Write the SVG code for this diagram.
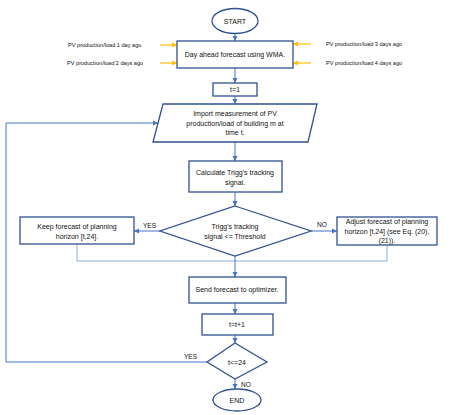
<svg xmlns="http://www.w3.org/2000/svg" width="474" height="415" viewBox="0 0 474 415">
<defs>
<marker id="ab" markerWidth="6" markerHeight="6" refX="5" refY="3" orient="auto" markerUnits="userSpaceOnUse"><path d="M0,0.5 L5,3 L0,5.5 Z" fill="#4472C4"/></marker>
<marker id="ay" markerWidth="6" markerHeight="6" refX="5" refY="3" orient="auto" markerUnits="userSpaceOnUse"><path d="M0,0.5 L5,3 L0,5.5 Z" fill="#FFC000"/></marker>
<style>
.n{fill:#fff;stroke:#2F528F;stroke-width:1.3}
.t{font-family:"Liberation Sans",Arial,sans-serif;font-size:7px;fill:#111;text-anchor:middle}
.s{font-family:"Liberation Sans",Arial,sans-serif;font-size:5.6px;fill:#111}
.c{fill:none;stroke:#4472C4;stroke-width:1}
.m{fill:none;stroke:#8FAADC;stroke-width:1}
.y{fill:none;stroke:#FFC000;stroke-width:1.2}
.l{font-family:"Liberation Sans",Arial,sans-serif;font-size:6.5px;fill:#111}
</style>
</defs>
<rect width="474" height="415" fill="#fff"/>
<g id="connectors">
<line class="c" x1="235" y1="33" x2="235" y2="41" marker-end="url(#ab)"/>
<line class="c" x1="235" y1="68" x2="235" y2="83" marker-end="url(#ab)"/>
<line class="c" x1="235" y1="96" x2="235" y2="104" marker-end="url(#ab)"/>
<line class="c" x1="235" y1="142" x2="235" y2="161" marker-end="url(#ab)"/>
<line class="c" x1="235" y1="192" x2="235" y2="206" marker-end="url(#ab)"/>
<line class="c" x1="160" y1="231" x2="134" y2="231" marker-end="url(#ab)"/>
<line class="c" x1="311" y1="231" x2="337" y2="231" marker-end="url(#ab)"/>
<polyline class="m" points="77,244 77,261 387,261 387,245"/>
<line class="c" x1="235" y1="256" x2="235" y2="277" marker-end="url(#ab)"/>
<line class="c" x1="235" y1="303" x2="235" y2="314" marker-end="url(#ab)"/>
<line class="c" x1="235" y1="335" x2="235" y2="343" marker-end="url(#ab)"/>
<line class="c" x1="235" y1="379" x2="235" y2="389" marker-end="url(#ab)"/>
<polyline class="c" points="207,362 6,362 6,123 158,123" marker-end="url(#ab)"/>
<line class="y" x1="160" y1="45" x2="177" y2="45" marker-end="url(#ay)"/>
<line class="y" x1="160" y1="63" x2="177" y2="63" marker-end="url(#ay)"/>
<line class="y" x1="311" y1="44" x2="293" y2="44" marker-end="url(#ay)"/>
<line class="y" x1="311" y1="63" x2="293" y2="63" marker-end="url(#ay)"/>
<text class="l" x="143" y="228">YES</text>
<text class="l" x="317" y="227">NO</text>
<text class="l" x="184" y="359">YES</text>
<text class="l" x="241" y="387">NO</text>
</g>
<g id="in1"><text class="s" x="68" y="47">PV production/load 1 day ago</text></g>
<g id="in2"><text class="s" x="67" y="65">PV production/load 2 days ago</text></g>
<g id="in3"><text class="s" x="326" y="46">PV production/load 3 days ago</text></g>
<g id="in4"><text class="s" x="326" y="65">PV production/load 4 days ago</text></g>
<g id="start"><ellipse class="n" cx="235" cy="21" rx="23" ry="12.5"/><text class="t" x="235" y="23.5">START</text></g>
<g id="wma"><rect class="n" x="177" y="41" width="116" height="27"/><text class="t" x="235" y="57">Day ahead forecast using WMA.</text></g>
<g id="t1"><rect class="n" x="213" y="83" width="44" height="13"/><text class="t" x="235" y="92">t=1</text></g>
<g id="import"><polygon class="n" points="163,104 317,104 308,142 153,142"/><text class="t" x="235" y="116">Import measurement of PV</text><text class="t" x="235" y="126">production/load of  building m at</text><text class="t" x="235" y="135">time t.</text></g>
<g id="calc"><rect class="n" x="189" y="161" width="93" height="31"/><text class="t" x="235" y="175">Calculate Trigg's tracking</text><text class="t" x="235" y="185">signal.</text></g>
<g id="dec1"><polygon class="n" points="235,206 311,231 235,256 160,231"/><text class="t" x="235" y="229">Trigg's tracking</text><text class="t" x="235" y="239">signal &lt;= Threshold</text></g>
<g id="keep"><rect class="n" x="20" y="217" width="114" height="27"/><text class="t" x="77" y="229">Keep forecast of planning</text><text class="t" x="77" y="239">horizon [t,24].</text></g>
<g id="adjust"><rect class="n" x="337" y="217" width="100" height="28"/><text class="t" x="387" y="224">Adjust forecast of planning</text><text class="t" x="387" y="234">horizon [t,24] (see Eq. (20),</text><text class="t" x="387" y="243">(21)).</text></g>
<g id="send"><rect class="n" x="189" y="277" width="97" height="26"/><text class="t" x="237" y="292">Send forecast to optimizer.</text></g>
<g id="inc"><rect class="n" x="202" y="314" width="71" height="21"/><text class="t" x="237" y="327">t=t+1</text></g>
<g id="dec2"><polygon class="n" points="235,343 267,362 235,379 207,362"/><text class="t" x="237" y="364.5">t&lt;=24</text></g>
<g id="end"><ellipse class="n" cx="237" cy="400" rx="24" ry="11"/><text class="t" x="237" y="402.5">END</text></g>
</svg>
